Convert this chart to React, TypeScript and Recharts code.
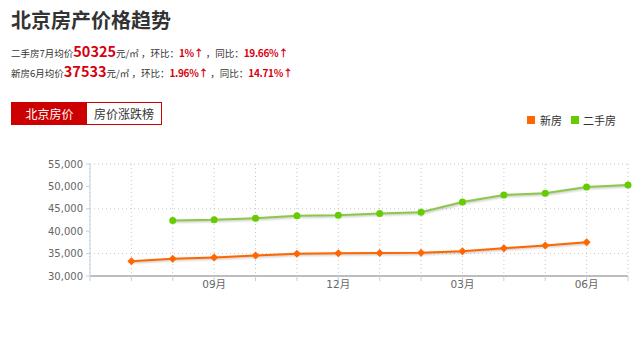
import { LineChart, Line, XAxis, YAxis, CartesianGrid } from "recharts";

const months = [
  "2016-06", "2016-07", "2016-08", "2016-09", "2016-10", "2016-11", "2016-12",
  "2017-01", "2017-02", "2017-03", "2017-04", "2017-05", "2017-06", "2017-07",
];
const tickLabels = ["", "", "", "09月", "", "", "12月", "", "", "03月", "", "", "06月", ""];
const newHomes = [null, 33300, 33850, 34150, 34600, 34980, 35070, 35130, 35200, 35500, 36200, 36800, 37533, null];
const resale = [null, null, 42380, 42530, 42900, 43440, 43580, 43960, 44250, 46520, 48100, 48480, 49840, 50325];
const yTicks = [30000, 35000, 40000, 45000, 50000, 55000];
const seriesNames = ["新房", "二手房"];

const data = months.map((m, i) => ({
  month: m,
  label: tickLabels[i],
  newHome: newHomes[i],
  resale: resale[i],
}));

const ORANGE = "#ff6600";
const GREEN_LINE = "#8cc84b";
const GREEN_DOT = "#66cc00";
const RED = "#d7000f";
const FONT = '"Noto Sans CJK SC", "Noto Sans", sans-serif';
const AXIS_FONT = '"DejaVu Sans", "Noto Sans CJK SC", sans-serif';

const redSmall = { color: RED, fontWeight: 700, fontSize: 10, letterSpacing: -0.3 };
const redBig = { color: RED, fontWeight: 700, fontSize: 14.5 };

const Diamond = (props: any) => {
  const { cx, cy, index } = props;
  if (cx == null || cy == null || newHomes[index] == null) return <g key={index} />;
  const r = 4;
  return (
    <polygon
      key={index}
      points={`${cx},${cy - r} ${cx + r},${cy} ${cx},${cy + r} ${cx - r},${cy}`}
      fill={ORANGE}
    />
  );
};

export default function App() {
  return (
    <div
      style={{
        position: "absolute",
        left: 0,
        top: 0,
        width: 640,
        height: 341,
        background: "#fff",
        fontFamily: FONT,
        color: "#333",
      }}
    >
      <style>{`.recharts-line-curve { filter: drop-shadow(1px 1px 1px rgba(0,0,0,0.25)); }`}</style>
      <div style={{ position: "absolute", left: 11, top: 5, fontSize: 20, fontWeight: 700, color: "#333" }}>
        北京房产价格趋势
      </div>
      <div style={{ position: "absolute", left: 11, top: 40, fontSize: 9.5, color: "#333", whiteSpace: "nowrap" }}>
        二手房7月均价
        <span style={redBig}>50325</span>
        元/㎡ ，环比：<span style={redSmall}>1%↑</span> ，同比：
        <span style={redSmall}>19.66%↑</span>
      </div>
      <div style={{ position: "absolute", left: 11, top: 60, fontSize: 9.5, color: "#333", whiteSpace: "nowrap" }}>
        新房6月均价
        <span style={redBig}>37533</span>
        元/㎡ ，环比：<span style={redSmall}>1.96%↑</span> ，同比：
        <span style={redSmall}>14.71%↑</span>
      </div>

      <div
        style={{
          position: "absolute",
          left: 11,
          top: 102,
          width: 151,
          height: 23,
          boxSizing: "border-box",
          border: "1px solid #cc0000",
          display: "flex",
          fontSize: 12,
        }}
      >
        <div style={{ width: 75, background: "#cc0000", color: "#fff", textAlign: "center", lineHeight: "21px" }}>
          北京房价
        </div>
        <div style={{ flex: 1, color: "#333", textAlign: "center", lineHeight: "21px" }}>房价涨跌榜</div>
      </div>

      <div style={{ position: "absolute", left: 527, top: 112, display: "flex", alignItems: "center", fontSize: 11, color: "#333" }}>
        <span style={{ width: 8, height: 8, background: ORANGE, marginRight: 5 }} />
        <span style={{ marginRight: 9 }}>{seriesNames[0]}</span>
        <span style={{ width: 8, height: 8, background: GREEN_DOT, marginRight: 4 }} />
        <span>{seriesNames[1]}</span>
      </div>

      <div style={{ position: "absolute", left: 0, top: 0 }}>
        <LineChart width={640} height={341} data={data} margin={{ top: 164, right: 12, bottom: 35, left: 0 }}>
          <CartesianGrid stroke="#c8c8c8" strokeDasharray="1 3" />
          <XAxis
            dataKey="month"
            interval={0}
            tickFormatter={(v: string, i: number) => tickLabels[i]}
            tick={{ fill: "#666", fontSize: 10.5, fontFamily: AXIS_FONT }}
            tickLine={{ stroke: "#c0d0e0" }}
            tickSize={5}
            tickMargin={0}
            axisLine={{ stroke: "#aaa", strokeWidth: 1.5 }}
            height={30}
          />
          <YAxis
            domain={[30000, 55000]}
            ticks={yTicks}
            width={90}
            tickFormatter={(v: number) => v.toLocaleString("en-US")}
            tick={{ fill: "#666", fontSize: 10, fontFamily: AXIS_FONT }}
            tickLine={{ stroke: "#c0d0e0" }}
            tickSize={4}
            tickMargin={3}
            axisLine={{ stroke: "#c0d0e0" }}
          />
          <Line
            name={seriesNames[0]}
            dataKey="newHome"
            stroke={ORANGE}
            strokeWidth={2}
            dot={Diamond}
            activeDot={false}
            isAnimationActive={false}
          />
          <Line
            name={seriesNames[1]}
            dataKey="resale"
            stroke={GREEN_LINE}
            strokeWidth={2}
            dot={{ r: 3.5, fill: GREEN_DOT, stroke: GREEN_DOT, strokeWidth: 0 }}
            activeDot={false}
            isAnimationActive={false}
          />
        </LineChart>
      </div>
    </div>
  );
}
